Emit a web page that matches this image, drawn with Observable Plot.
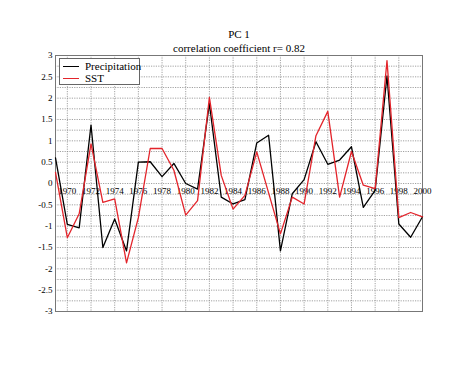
<!DOCTYPE html>
<html>
<head>
<meta charset="utf-8">
<script src="https://cdn.jsdelivr.net/npm/d3@7"></script>
<script src="https://cdn.jsdelivr.net/npm/@observablehq/plot@0.6"></script>
<style>
  html, body { margin: 0; padding: 0; background: #fff; }
  #wrap { position: relative; width: 474px; height: 366px; font-family: "Liberation Serif", "DejaVu Serif", serif; }
  #legend { position: absolute; left: 59px; top: 58px; width: 81px; height: 27px; border: 1px solid #666; background: #fff; box-sizing: border-box; }
  .item { position: absolute; left: 0; height: 13px; font-size: 11px; line-height: 13px; color: #000; }
  .sw { position: absolute; left: 3px; width: 16px; top: 6px; height: 0; border-top: 1.3px solid #000; }
  .lab { position: absolute; left: 25px; top: 0; white-space: nowrap; }
</style>
</head>
<body>
<div id="wrap">
  <div id="chart"></div>
  <div id="legend">
    <div class="item" style="top:1px"><div class="sw" style="border-color:#000"></div><div class="lab">Precipitation</div></div>
    <div class="item" style="top:13px"><div class="sw" style="border-color:#e3242b"></div><div class="lab">SST</div></div>
  </div>
</div>
<script>
const years = d3.range(1969, 2001);
const precipitation = [0.6, -0.96, -1.04, 1.37, -1.5, -0.83, -1.58, 0.5, 0.51, 0.16, 0.47, 0.0, -0.13, 1.87, -0.32, -0.48, -0.38, 0.95, 1.13, -1.58, -0.24, 0.09, 0.98, 0.45, 0.55, 0.86, -0.56, -0.16, 2.52, -0.95, -1.26, -0.78];
const sst = [0.26, -1.27, -0.71, 0.93, -0.44, -0.36, -1.86, -0.8, 0.82, 0.82, 0.31, -0.74, -0.4, 2.02, 0.19, -0.6, -0.28, 0.74, -0.22, -1.18, -0.32, -0.48, 1.12, 1.69, -0.32, 0.75, -0.04, -0.12, 2.88, -0.8, -0.68, -0.78];
const xTickYears = d3.range(1970, 2001, 2);
const yTicks = d3.range(-3, 3.01, 0.5).map(v => Math.round(v * 100) / 100);
const yGrid = d3.range(-3, 3.01, 0.25).map(v => Math.round(v * 100) / 100);
const title = "PC 1";
const subtitle = "correlation coefficient r= 0.82";

const rowsP = years.map((y, i) => ({year: y, value: precipitation[i]}));
const rowsS = years.map((y, i) => ({year: y, value: sst[i]}));

const chart = Plot.plot({
  width: 474,
  height: 366,
  marginLeft: 55,
  marginRight: 52,
  marginTop: 55,
  marginBottom: 55,
  style: {fontFamily: "'Liberation Serif', 'DejaVu Serif', serif", fontSize: "9px", background: "#fff", color: "#000"},
  x: {domain: [1969, 2000], axis: null},
  y: {domain: [-3, 3], axis: null},
  marks: [
    Plot.ruleY(yGrid, {stroke: "#8a8a8a", strokeDasharray: "1.2,1.2", strokeWidth: 0.8}),
    Plot.ruleX(xTickYears, {stroke: "#8a8a8a", strokeDasharray: "1.2,1.2", strokeWidth: 0.8}),
    Plot.frame({stroke: "#777", strokeWidth: 1}),
    Plot.axisY({ticks: yTicks, tickSize: 0, tickPadding: 3, tickFormat: d => String(d), fontSize: 9, label: null}),
    Plot.text(xTickYears, {x: d => d, y: 0, text: d => String(d), dy: 8, fontSize: 9, fill: "#000"}),
    Plot.line(rowsP, {x: "year", y: "value", stroke: "#000", strokeWidth: 1.3}),
    Plot.line(rowsS, {x: "year", y: "value", stroke: "#e3242b", strokeWidth: 1.3}),
    Plot.text([title], {frameAnchor: "top", dy: -25, text: d => d, fontSize: 11, fill: "#000"}),
    Plot.text([subtitle], {frameAnchor: "top", dy: -11, text: d => d, fontSize: 11, fill: "#000"})
  ]
});
document.getElementById("chart").appendChild(chart);
</script>
</body>
</html>
